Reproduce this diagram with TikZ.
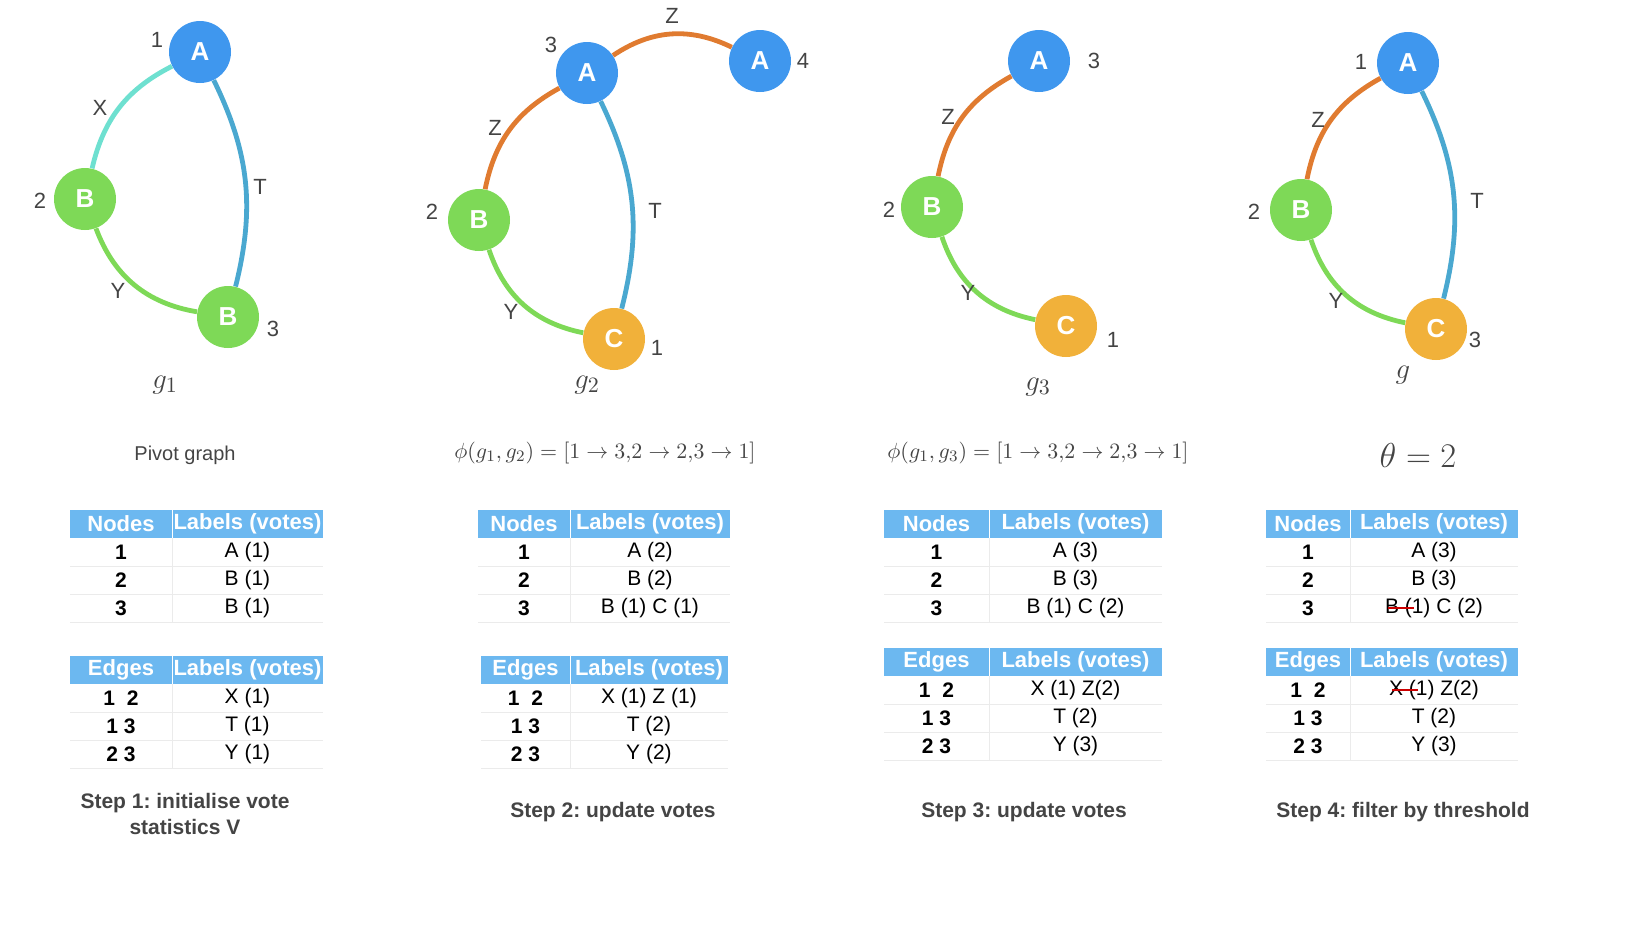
\documentclass[tikz,border=0pt]{standalone}
\usepackage{fontspec}
\setmainfont{Liberation Sans}
\usetikzlibrary{positioning}
\frenchspacing
\definecolor{cblue}{HTML}{3F97EE}
\definecolor{cgreen}{HTML}{7ED957}
\definecolor{corange}{HTML}{F1B13A}
\definecolor{eteal}{HTML}{6EE0D0}
\definecolor{eblue}{HTML}{4AA8D0}
\definecolor{egreen}{HTML}{7ED957}
\definecolor{eorange}{HTML}{E07B30}
\definecolor{thead}{HTML}{6CB8F0}
\definecolor{txtgrey}{HTML}{444444}
\tikzset{
 vert/.style={circle,minimum size=31pt,inner sep=0pt,text=white,font=\fontsize{13}{13}\selectfont\bfseries},
 va/.style={vert,fill=cblue}, vb/.style={vert,fill=cgreen}, vc/.style={vert,fill=corange},
 num/.style={text=txtgrey,font=\fontsize{11}{11}\selectfont},
 lab/.style={text=txtgrey,font=\fontsize{11}{11}\selectfont},
 edg/.style={line width=2.4pt},
 gname/.style={text=txtgrey,font=\fontsize{15}{15}\selectfont},
 capt/.style={text=txtgrey,font=\fontsize{10.5}{13}\selectfont\bfseries,align=center},
 cell/.style={font=\fontsize{10.5}{10}\selectfont},
 hcell/.style={font=\fontsize{11}{10}\selectfont\bfseries,text=white},
 strike/.style={red!80!black,line width=0.9pt},
}
\newcommand\mytab[7]{%
 \fill[thead] (#1,#4) rectangle (#3,#4+28);
 \draw[white,line width=0.5pt] (#2,#4) -- (#2,#4+28);
 \node[hcell] (h#7a) at ({(#1+#2)/2},#4+14) {#5};
 \node[hcell] (h#7b) at ({(#2+#3)/2},#4+14) {Labels (votes)};
 \foreach \l/\r [count=\i] in {#6}{
   \draw[black!8] (#1,#4+28+28*\i) -- (#3,#4+28+28*\i);
   \draw[black!8] (#2,#4+28*\i) -- (#2,#4+28+28*\i);
   \node[cell,font=\fontsize{10.5}{10}\selectfont\bfseries] (l#7\i) at ({(#1+#2)/2},#4+14+28*\i) {\l};
   \node[cell] (r#7\i) at ({(#2+#3)/2},#4+14+28*\i) {\r};
 }}
\begin{document}
\begin{tikzpicture}[x=0.5pt,y=-0.5pt]
\useasboundingbox (0,0) rectangle (1630,943);
% graph 1
\node[va] (a1) at (200,52) {A};
\node[vb] (b1) at (85,199) {B};
\node[vb] (c1) at (228,317) {B};
\draw[edg,eteal] (a1) to[bend right=25] (b1);
\draw[edg,eblue] (a1) to[bend left=20] (c1);
\draw[edg,egreen] (b1) to[bend right=30] (c1);
\node[num] at (157,40) {1}; \node[num] at (40,201) {2}; \node[num] at (273,329) {3};
\node[lab] at (100,108) {X}; \node[lab] at (260,187) {T}; \node[lab] at (118,291) {Y};
\node[gname] (g1) at (165,385) {$g_1$};
% graph 2
\node[va] (a2) at (587,73) {A};
\node[va] (d2) at (760,61) {A};
\node[vb] (b2) at (479,220) {B};
\node[vc] (c2) at (614,339) {C};
\draw[edg,eorange] (a2) to[bend left=30] (d2);
\draw[edg,eorange] (a2) to[bend right=25] (b2);
\draw[edg,eblue] (a2) to[bend left=20] (c2);
\draw[edg,egreen] (b2) to[bend right=30] (c2);
\node[num] at (551,45) {3}; \node[num] at (803,61) {4}; \node[num] at (432,212) {2}; \node[num] at (657,348) {1};
\node[lab] at (672,16) {Z}; \node[lab] at (495,128) {Z}; \node[lab] at (655,211) {T}; \node[lab] at (511,312) {Y};
\node[gname] (g2) at (587,385) {$g_2$};
% graph 3
\node[va] (a3) at (1039,61) {A};
\node[vb] (b3) at (932,207) {B};
\node[vc] (c3) at (1066,326) {C};
\draw[edg,eorange] (a3) to[bend right=25] (b3);
\draw[edg,egreen] (b3) to[bend right=30] (c3);
\node[num] at (1094,61) {3}; \node[num] at (889,210) {2}; \node[num] at (1113,340) {1};
\node[lab] at (948,117) {Z}; \node[lab] at (968,293) {Y};
\node[gname] (g3) at (1038,387) {$g_3$};
% graph 4
\node[va] (a4) at (1408,63) {A};
\node[vb] (b4) at (1301,210) {B};
\node[vc] (c4) at (1436,329) {C};
\draw[edg,eorange] (a4) to[bend right=25] (b4);
\draw[edg,eblue] (a4) to[bend left=20] (c4);
\draw[edg,egreen] (b4) to[bend right=30] (c4);
\node[num] at (1361,62) {1}; \node[num] at (1254,212) {2}; \node[num] at (1475,340) {3};
\node[lab] at (1318,120) {Z}; \node[lab] at (1477,201) {T}; \node[lab] at (1336,301) {Y};
\node[gname] (g4) at (1403,375) {$g$};
% formulas
\node[text=txtgrey,font=\fontsize{10}{10}\selectfont] (f1) at (185,455) {Pivot graph};
\node[text=txtgrey,font=\fontsize{11}{11}\selectfont] (f2) at (605,453) {$\phi(g_1,g_2)=[1\rightarrow3{,}2\rightarrow2{,}3\rightarrow1]$};
\node[text=txtgrey,font=\fontsize{11}{11}\selectfont] (f3) at (1038,453) {$\phi(g_1,g_3)=[1\rightarrow3{,}2\rightarrow2{,}3\rightarrow1]$};
\node[text=txtgrey,font=\fontsize{16}{16}\selectfont] (f4) at (1418,455) {$\theta=2$};
% tables
\mytab{70}{172}{323}{510}{Nodes}{1/A (1),2/B (1),3/B (1)}{na}
\mytab{70}{172}{323}{656}{Edges}{1\ \ 2/X (1),1 3/T (1),2 3/Y (1)}{ea}
\mytab{478}{570}{730}{510}{Nodes}{1/A (2),2/B (2),3/B (1) C (1)}{nb}
\mytab{481}{570}{728}{656}{Edges}{1\ \ 2/X (1) Z (1),1 3/T (2),2 3/Y (2)}{eb}
\mytab{884}{989}{1162}{510}{Nodes}{1/A (3),2/B (3),3/B (1) C (2)}{nc}
\mytab{884}{989}{1162}{648}{Edges}{1\ \ 2/X (1) Z(2),1 3/T (2),2 3/Y (3)}{ec}
\mytab{1266}{1350}{1518}{510}{Nodes}{1/A (3),2/B (3),3/B (1) C (2)}{nd}
\mytab{1266}{1350}{1518}{648}{Edges}{1\ \ 2/X (1) Z(2),1 3/T (2),2 3/Y (3)}{ed}
\draw[strike] ([xshift=5pt]rnd3.west) -- ++(13pt,0);
\draw[strike] ([xshift=5pt]red1.west) -- ++(13pt,0);
% captions
\node[capt] (s1) at (185,814) {Step 1: initialise vote\\statistics V};
\node[capt] (s2) at (613,812) {Step 2: update votes};
\node[capt] (s3) at (1024,812) {Step 3: update votes};
\node[capt] (s4) at (1403,812) {Step 4: filter by threshold};
\end{tikzpicture}
\end{document}
